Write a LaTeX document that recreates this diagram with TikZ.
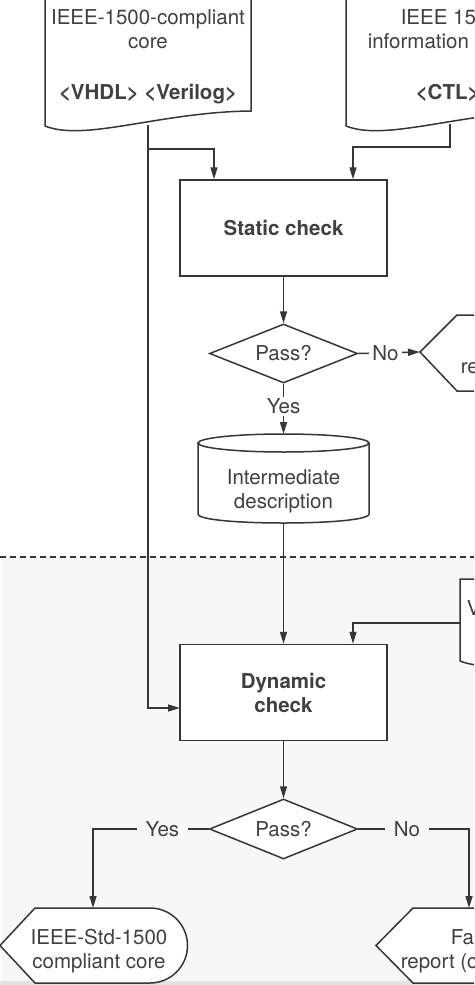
\documentclass[tikz,border=0pt]{standalone}
\usepackage{fontspec}
\setmainfont{TeX Gyre Heros}
\usetikzlibrary{shapes.geometric,arrows.meta,positioning,calc}
\definecolor{ink}{HTML}{363636}
\definecolor{txt}{HTML}{404040}
\definecolor{bgtint}{HTML}{F6F8F7}

\begin{document}
\begin{tikzpicture}[x=1pt,y=-1pt,line width=1.5pt,color=ink,
    every node/.style={inner sep=0pt,text=txt,font=\fontsize{20.5}{24}\selectfont},
    flow/.style={-{Triangle[length=12pt,width=7pt]}},
    bold/.style={font=\fontsize{20.5}{24}\selectfont\bfseries},
    box/.style={draw=ink,fill=white,bold,align=center,minimum width=207pt,minimum height=96pt},
    test/.style={draw=ink,fill=white,diamond,aspect=2.5,minimum width=148pt,minimum height=59pt},
    lbl/.style={fill=white,inner xsep=3pt,inner ysep=2pt}]
  \useasboundingbox (0,0) rectangle (474,985);
  \clip (0,0) rectangle (474,985);

  % Shaded lower half
  \fill[bgtint] (2,557) rectangle (474,981);
  \fill[gray!22] (0,981) rectangle (474,985);
  \draw[line width=1.2pt,dash pattern=on 6pt off 4pt] (0,557) -- (474,557);

  % Source documents
  \draw[fill=white] (45,-5) -- (45,126) .. controls (85,142) and (160,112) .. (251,111) -- (251,-5) -- cycle;
  \node[anchor=base] at (148,24) {IEEE-1500-compliant};
  \node[anchor=base] at (148,48) {core};
  \node[anchor=base,bold] at (148,99) {\textless VHDL\textgreater{} \textless Verilog\textgreater};
  \coordinate (doc1out) at (148,125);

  \draw[fill=white] (346,-5) -- (346,126) .. controls (386,142) and (461,112) .. (552,111) -- (552,-5) -- cycle;
  \node[anchor=base west] at (400,24) {IEEE 1500};
  \node[anchor=base west] at (367,48) {information};
  \node[anchor=base west,bold] at (415,99) {\textless CTL\textgreater};
  \coordinate (doc2out) at (450,124);

  % Static part
  \node[box] (static) at (283.5,228) {Static check};
  \node[test] (pass1) at (283.5,353.5) {Pass?};

  \draw[fill=white] (420,352) -- (457,315) -- (480,315) -- (480,391) -- (457,391) -- cycle;
  \node[anchor=base west] at (460,373) {report};
  \coordinate (err1tip) at (420,352);

  % Intermediate store
  \draw[fill=white] (198,443) -- (198,514) .. controls (198,526) and (369,526) .. (369,514) -- (369,443);
  \draw[fill=white] (283.5,443) ellipse [x radius=85.5, y radius=9];
  \node[anchor=base] at (283.5,484) {Intermediate};
  \node[anchor=base] at (283.5,508) {description};
  \coordinate (intop) at (283.5,434);
  \coordinate (inbot) at (283.5,523);

  % Dynamic part
  \draw[fill=white] (460,579) -- (460,661) .. controls (500,677) and (575,647) .. (666,646) -- (666,579) -- cycle;
  \node[anchor=base west] at (466,615) {Verification};
  \coordinate (doc3out) at (460,623);

  \node[box] (dynamic) at (283.5,692.5) {Dynamic\\check};
  \node[test,minimum height=60pt] (pass2) at (283.5,829) {Pass?};

  \draw[fill=white] (0,945.5) -- (35,908) -- (150,908) .. controls (170.7,908) and (187.5,924.8) .. (187.5,945.5)
    .. controls (187.5,966.2) and (170.7,983) .. (150,983) -- (35,983) -- cycle;
  \node[anchor=base] at (99,944) {IEEE-Std-1500};
  \node[anchor=base] at (99,968) {compliant core};
  \coordinate (donetop) at (93,908);

  \draw[fill=white] (376,945.5) -- (413,908) -- (480,908) -- (480,983) -- (413,983) -- cycle;
  \node[anchor=base west] at (450,944) {Failure};
  \node[anchor=base west] at (400,968) {report (core)};
  \coordinate (failtop) at (469,908);

  % Connectors
  \coordinate (split) at (148,149);
  \coordinate (dynin) at (180,708);
  \draw (doc1out) -- (split);
  \draw[flow] (split) -| ([xshift=-69.5pt]static.north);
  \draw[flow] (split) |- (dynin);
  \draw[flow] (doc2out) -- ++(0,23) -| ([xshift=69.5pt]static.north);
  \draw[flow] (static.south) -- (pass1.north);
  \draw[flow] (pass1.east) -- node[lbl,pos=0.44] {No} (err1tip);
  \draw[flow] (pass1.south) -- node[lbl,pos=0.45] {Yes} (intop);
  \draw[flow] (inbot) -- (dynamic.north);
  \draw[flow] (doc3out) -| ([xshift=69.5pt]dynamic.north);
  \draw[flow] (dynamic.south) -- (pass2.north);
  \draw[flow] (pass2.west) -| node[lbl,fill=bgtint,inner xsep=9pt,pos=0.2] {Yes} (donetop);
  \draw[flow] (pass2.east) -| node[lbl,fill=bgtint,inner xsep=9pt,pos=0.22] {No} (failtop);
\end{tikzpicture}
\end{document}
